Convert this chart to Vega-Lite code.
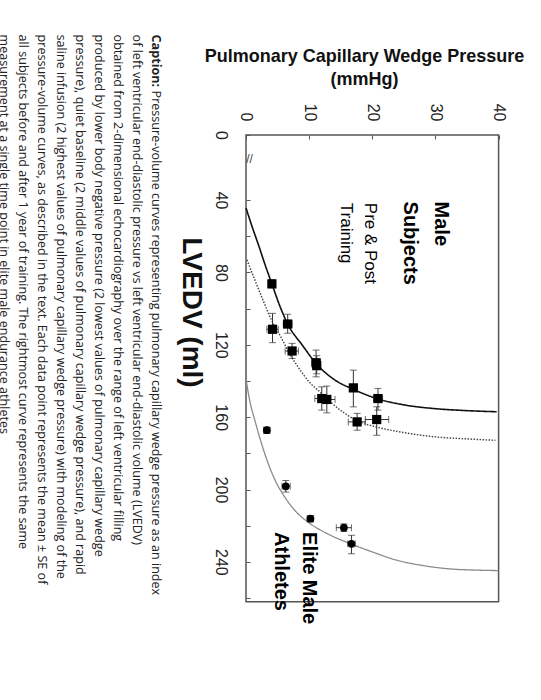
{
  "$schema": "https://vega.github.io/schema/vega-lite/v6.json",
  "width": 252.6,
  "height": 466.7,
  "autosize": "none",
  "padding": {"left": 246, "top": 135, "right": 42, "bottom": 98},
  "background": "white",
  "datasets": {
    "curves": [
      {"curve": "solid", "p": 0, "v": 44.3},
      {"curve": "solid", "p": 1, "v": 55},
      {"curve": "solid", "p": 2, "v": 65},
      {"curve": "solid", "p": 3, "v": 75.5},
      {"curve": "solid", "p": 4.1, "v": 86.3},
      {"curve": "solid", "p": 5.3, "v": 98},
      {"curve": "solid", "p": 6.6, "v": 108.5},
      {"curve": "solid", "p": 8.9, "v": 120.1},
      {"curve": "solid", "p": 11.1, "v": 130.3},
      {"curve": "solid", "p": 14.1, "v": 139.5},
      {"curve": "solid", "p": 17, "v": 144.6},
      {"curve": "solid", "p": 21, "v": 150},
      {"curve": "solid", "p": 25.2, "v": 153.3},
      {"curve": "solid", "p": 30, "v": 155.3},
      {"curve": "solid", "p": 34.5, "v": 156.3},
      {"curve": "solid", "p": 39.7, "v": 157},
      {"curve": "dotted", "p": 0.15, "v": 73},
      {"curve": "dotted", "p": 1.5, "v": 85},
      {"curve": "dotted", "p": 2.6, "v": 94.5},
      {"curve": "dotted", "p": 4, "v": 106},
      {"curve": "dotted", "p": 5.5, "v": 115.5},
      {"curve": "dotted", "p": 7, "v": 125.5},
      {"curve": "dotted", "p": 8.2, "v": 132},
      {"curve": "dotted", "p": 10, "v": 140.5},
      {"curve": "dotted", "p": 11.7, "v": 146},
      {"curve": "dotted", "p": 13.5, "v": 152},
      {"curve": "dotted", "p": 15.5, "v": 157.5},
      {"curve": "dotted", "p": 17.6, "v": 162},
      {"curve": "dotted", "p": 21, "v": 165.7},
      {"curve": "dotted", "p": 25, "v": 168.5},
      {"curve": "dotted", "p": 30, "v": 170.9},
      {"curve": "dotted", "p": 35, "v": 172},
      {"curve": "dotted", "p": 39.5, "v": 172.8},
      {"curve": "elite", "p": 0, "v": 139},
      {"curve": "elite", "p": 0.6, "v": 151},
      {"curve": "elite", "p": 1.5, "v": 163},
      {"curve": "elite", "p": 2.5, "v": 175},
      {"curve": "elite", "p": 3.5, "v": 185.5},
      {"curve": "elite", "p": 4.5, "v": 194},
      {"curve": "elite", "p": 6.4, "v": 205.5},
      {"curve": "elite", "p": 8, "v": 212.5},
      {"curve": "elite", "p": 10, "v": 218.5},
      {"curve": "elite", "p": 12, "v": 222.8},
      {"curve": "elite", "p": 14, "v": 226.3},
      {"curve": "elite", "p": 16.5, "v": 229.9},
      {"curve": "elite", "p": 20, "v": 234.5},
      {"curve": "elite", "p": 24, "v": 239.2},
      {"curve": "elite", "p": 28, "v": 242},
      {"curve": "elite", "p": 32, "v": 243.8},
      {"curve": "elite", "p": 36, "v": 244.5},
      {"curve": "elite", "p": 40, "v": 244.8}
    ],
    "points": [
      {"group": "male", "p": 4.1, "v": 86.3, "plo": 3.6, "phi": 4.6, "vlo": 84, "vhi": 88.5},
      {"group": "male", "p": 4.2, "v": 111.4, "plo": 3.3, "phi": 5.1, "vlo": 102.6, "vhi": 118.8},
      {"group": "male", "p": 6.6, "v": 108.5, "plo": 5.9, "phi": 7.3, "vlo": 103.1, "vhi": 113.6},
      {"group": "male", "p": 7.3, "v": 123.4, "plo": 6.2, "phi": 8.3, "vlo": 119.2, "vhi": 127.5},
      {"group": "male", "p": 11.1, "v": 129.9, "plo": 10.4, "phi": 11.8, "vlo": 122.9, "vhi": 137.7},
      {"group": "male", "p": 11.2, "v": 131.5, "plo": 10.6, "phi": 11.8, "vlo": 126, "vhi": 136},
      {"group": "male", "p": 12.0, "v": 149.7, "plo": 10.9, "phi": 13.0, "vlo": 143.2, "vhi": 156.1},
      {"group": "male", "p": 12.8, "v": 150.2, "plo": 11.8, "phi": 14.1, "vlo": 142.8, "vhi": 157.6},
      {"group": "male", "p": 17.0, "v": 143.8, "plo": 16.4, "phi": 17.6, "vlo": 134, "vhi": 154.3},
      {"group": "male", "p": 20.9, "v": 149.7, "plo": 20.2, "phi": 21.6, "vlo": 144.1, "vhi": 156.1},
      {"group": "male", "p": 17.6, "v": 162.6, "plo": 16.2, "phi": 18.9, "vlo": 157.9, "vhi": 167.2},
      {"group": "male", "p": 20.7, "v": 161.3, "plo": 18.9, "phi": 22.6, "vlo": 154.3, "vhi": 170},
      {"group": "elite", "p": 3.3, "v": 167.2, "plo": 2.8, "phi": 3.8, "vlo": 165.5, "vhi": 169},
      {"group": "elite", "p": 6.3, "v": 198.2, "plo": 5.7, "phi": 7.0, "vlo": 195, "vhi": 201.4},
      {"group": "elite", "p": 10.2, "v": 216.1, "plo": 9.7, "phi": 10.7, "vlo": 214.5, "vhi": 217.8},
      {"group": "elite", "p": 15.5, "v": 221.1, "plo": 14.3, "phi": 16.7, "vlo": 219, "vhi": 223.2},
      {"group": "elite", "p": 16.7, "v": 230.0, "plo": 16.1, "phi": 17.3, "vlo": 225.3, "vhi": 235.5}
    ],
    "labels": [
      {"label": "Male", "weight": "bold", "p": 30.9, "v": 40.8},
      {"label": "Subjects", "weight": "bold", "p": 25.9, "v": 40.8},
      {"label": "Elite Male", "weight": "bold", "p": 10.0, "v": 223.5},
      {"label": "Athletes", "weight": "bold", "p": 5.6, "v": 223.5},
      {"label": "Pre & Post", "weight": "normal", "p": 19.7, "v": 41.5},
      {"label": "Training", "weight": "normal", "p": 15.9, "v": 41.5}
    ]
  },
  "resolve": {"axis": {"x": "independent", "y": "independent"}},
  "layer": [
    {
      "data": {"name": "curves"},
      "mark": {"type": "line", "interpolate": "monotone"},
      "encoding": {
        "x": {
          "field": "p",
          "type": "quantitative",
          "scale": {"domain": [0, 40], "nice": false, "zero": false},
          "axis": {
            "orient": "top",
            "values": [0, 10, 20, 30, 40],
            "labelAngle": 90,
            "labelAlign": "right",
            "labelBaseline": "middle",
            "labelFlush": false,
            "labelOverlap": false,
            "labelPadding": 18,
            "title": ["Pulmonary Capillary Wedge Pressure", "\u00a0\u00a0\u00a0\u00a0\u00a0\u00a0\u00a0\u00a0\u00a0\u00a0\u00a0(mmHg)"],
            "titleFontSize": 18,
            "titleFontWeight": "bold",
            "titleLineHeight": 23,
            "titleBaseline": "top",
            "titleX": 118,
            "titleY": -87
          }
        },
        "y": {
          "field": "v",
          "type": "quantitative",
          "scale": {"domain": [4, 262], "reverse": true, "nice": false, "zero": false},
          "axis": {
            "values": [4, 40, 60, 80, 100, 120, 140, 160, 180, 200, 220, 240, 260],
            "labelExpr": "datum.value == 4 ? '0' : (datum.value % 40 == 0 ? datum.label : '')",
            "labelAngle": 90,
            "labelAlign": "center",
            "labelBaseline": "top",
            "labelFlush": false,
            "labelOverlap": false,
            "labelPadding": 21,
            "title": "LVEDV (ml)",
            "titleFontSize": 28,
            "titleFontWeight": "bold",
            "titleAngle": 90,
            "titleAlign": "center",
            "titleBaseline": "top",
            "titleX": -41,
            "titleY": 177
          }
        },
        "color": {
          "field": "curve",
          "type": "nominal",
          "scale": {"domain": ["solid", "dotted", "elite"], "range": ["#111111", "#444444", "#8a8a8a"]},
          "legend": null
        },
        "strokeDash": {
          "field": "curve",
          "type": "nominal",
          "scale": {"domain": ["solid", "dotted", "elite"], "range": [[1, 0], [1.5, 1.5], [1, 0]]},
          "legend": null
        },
        "strokeWidth": {
          "field": "curve",
          "type": "nominal",
          "scale": {"domain": ["solid", "dotted", "elite"], "range": [1.6, 1.3, 1.3]},
          "legend": null
        }
      }
    },
    {
      "data": {"name": "points"},
      "mark": {"type": "errorbar", "ticks": {"size": 7}, "color": "#333", "thickness": 1},
      "encoding": {
        "x": {"field": "p", "type": "quantitative", "axis": null},
        "y": {"field": "vlo", "type": "quantitative", "axis": null},
        "y2": {"field": "vhi"}
      }
    },
    {
      "data": {"name": "points"},
      "mark": {"type": "errorbar", "ticks": {"size": 7}, "color": "#333", "thickness": 1},
      "encoding": {
        "y": {"field": "v", "type": "quantitative", "axis": null},
        "x": {"field": "plo", "type": "quantitative", "axis": null},
        "x2": {"field": "phi"}
      }
    },
    {
      "data": {"name": "points"},
      "transform": [{"filter": "datum.group == 'male'"}],
      "mark": {"type": "point", "shape": "square", "filled": true, "color": "black", "size": 85, "opacity": 1},
      "encoding": {
        "x": {"field": "p", "type": "quantitative", "axis": null},
        "y": {"field": "v", "type": "quantitative", "axis": null}
      }
    },
    {
      "data": {"name": "points"},
      "transform": [{"filter": "datum.group == 'elite'"}],
      "mark": {"type": "point", "shape": "circle", "filled": true, "color": "black", "size": 60, "opacity": 1},
      "encoding": {
        "x": {"field": "p", "type": "quantitative", "axis": null},
        "y": {"field": "v", "type": "quantitative", "axis": null}
      }
    },
    {
      "data": {"name": "labels"},
      "transform": [{"filter": "datum.weight == 'bold'"}],
      "mark": {"type": "text", "angle": 90, "align": "left", "baseline": "middle", "font": "Liberation Sans", "fontSize": 20, "fontWeight": "bold", "color": "black"},
      "encoding": {
        "x": {"field": "p", "type": "quantitative", "axis": null},
        "y": {"field": "v", "type": "quantitative", "axis": null},
        "text": {"field": "label"}
      }
    },
    {
      "data": {"name": "labels"},
      "transform": [{"filter": "datum.weight == 'normal'"}],
      "mark": {"type": "text", "angle": 90, "align": "left", "baseline": "middle", "font": "Liberation Sans", "fontSize": 17, "color": "black"},
      "encoding": {
        "x": {"field": "p", "type": "quantitative", "axis": null},
        "y": {"field": "v", "type": "quantitative", "axis": null},
        "text": {"field": "label"}
      }
    },
    {
      "data": {"values": [{}]},
      "mark": {"type": "text", "font": "Liberation Sans", "fontSize": 12, "color": "#444"},
      "encoding": {
        "x": {"datum": 0.55, "axis": null},
        "y": {"datum": 17, "axis": null},
        "text": {"value": "//"}
      }
    },
    {
      "data": {"values": [{}]},
      "mark": {"type": "text", "angle": 90, "align": "left", "baseline": "top", "font": "Open Sans", "fontSize": 12.6, "fontWeight": "bold", "color": "#222"},
      "encoding": {
        "x": {"datum": -13.25, "axis": null},
        "y": {"datum": -51.5, "axis": null},
        "text": {"value": "Caption:"}
      }
    },
    {
      "data": {"values": [{}]},
      "mark": {"type": "text", "angle": 90, "align": "left", "baseline": "top", "dx": 56, "font": "Open Sans", "fontSize": 12.6, "color": "#222"},
      "encoding": {
        "x": {"datum": -13.25, "axis": null},
        "y": {"datum": -51.5, "axis": null},
        "text": {"value": "Pressure-volume curves representing pulmonary capillary wedge pressure as an index"}
      }
    },
    {
      "data": {"values": [{}]},
      "mark": {"type": "text", "angle": 90, "align": "left", "baseline": "top", "lineHeight": 19, "font": "Open Sans", "fontSize": 12.6, "color": "#222"},
      "encoding": {
        "x": {"datum": -16.26, "axis": null},
        "y": {"datum": -51.5, "axis": null},
        "text": {"value": [
          "of left ventricular end-diastolic pressure vs left ventricular end-diastolic volume (LVEDV)",
          "obtained from 2-dimensional echocardiography over the range of left ventricular filling",
          "produced by lower body negative pressure (2 lowest values of pulmonary capillary wedge",
          "pressure), quiet baseline (2 middle values of pulmonary capillary wedge pressure), and rapid",
          "saline infusion (2 highest values of pulmonary capillary wedge pressure) with modeling of the",
          "pressure-volume curves, as described in the text. Each data point represents the mean ± SE of",
          "all subjects before and after 1 year of training. The rightmost curve represents the same",
          "measurement at a single time point in elite male endurance athletes"
        ]}
      }
    }
  ],
  "config": {
    "view": {"stroke": "#555", "strokeWidth": 1.5},
    "font": "Liberation Sans",
    "axis": {
      "domain": false,
      "grid": false,
      "ticks": true,
      "tickSize": -4,
      "tickColor": "#555",
      "labelFont": "Liberation Sans",
      "labelFontSize": 16,
      "labelColor": "#222",
      "titleFont": "Liberation Sans",
      "titleColor": "#111"
    }
  }
}
